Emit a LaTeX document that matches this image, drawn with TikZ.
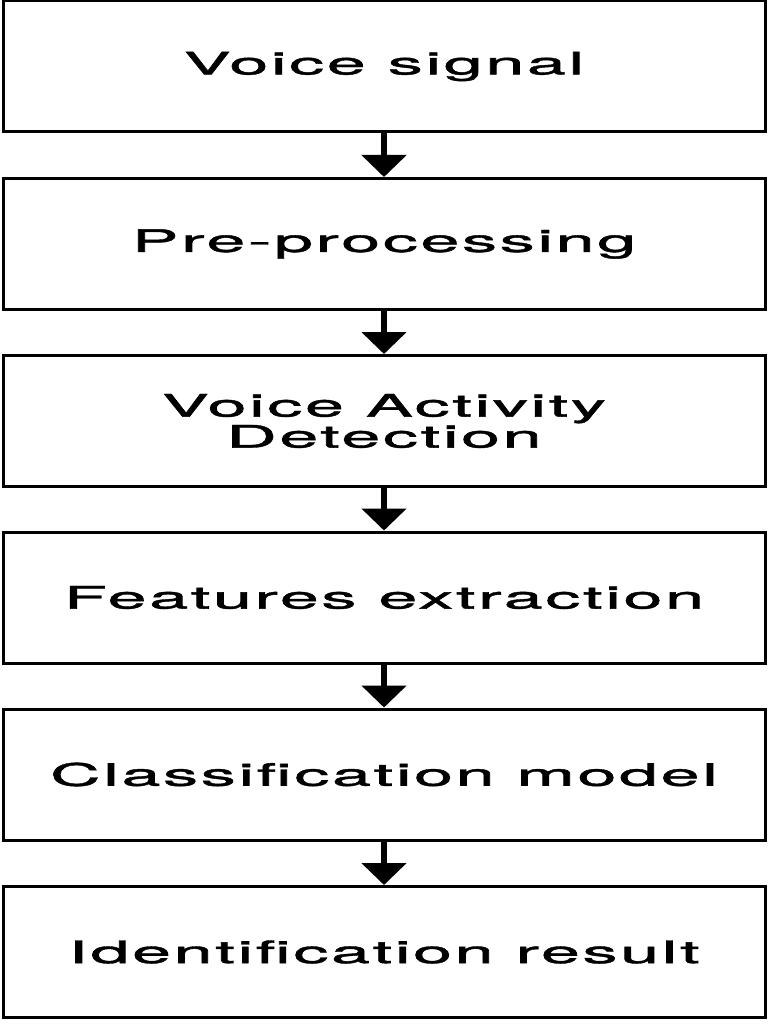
\documentclass[tikz,border=0pt]{standalone}
\usepackage{fontspec}
\setmainfont[LetterSpace=4,FakeBold=1.2]{TeX Gyre Heros}
\usetikzlibrary{arrows.meta}
\newcommand\wideTxt[1]{\scalebox{2.25}[1]{#1}}
\begin{document}
\begin{tikzpicture}[x=1pt,y=-1pt,
  box/.style={draw,line width=3pt,minimum width=762pt,minimum height=131pt,inner sep=0pt,align=center,font=\fontsize{31}{31}\selectfont},
  arr/.style={line width=6pt,-{Triangle[width=44pt,length=22pt]}}]
\useasboundingbox (0,0) rectangle (768,1024);
\node[box] (b1) at (384,66.5) {\wideTxt{Voice signal}};
\node[box] (b2) at (384,244) {\wideTxt{Pre-processing}};
\node[box] (b3) at (384,421) {\wideTxt{Voice Activity}\\[0pt]\wideTxt{Detection}};
\node[box] (b4) at (384,597.5) {\wideTxt{Features extraction}};
\node[box] (b5) at (384,774.5) {\wideTxt{Classification model}};
\node[box] (b6) at (384,952) {\wideTxt{Identification result}};
\foreach \a/\b in {b1/b2,b2/b3,b3/b4,b4/b5,b5/b6}
  \draw[arr] (\a.south) -- (\b.north);
\end{tikzpicture}
\end{document}
